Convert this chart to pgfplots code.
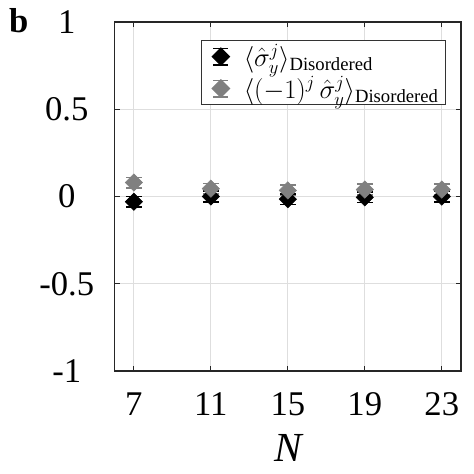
\documentclass[border=0pt]{standalone}
\usepackage{fix-cm}
\usepackage{amsmath}
\usepackage{pgfplots}
\pgfplotsset{compat=1.18}
\usepackage{fontspec}
\setmainfont{Liberation Serif}
\definecolor{mgray}{RGB}{128,128,128}
\definecolor{gridc}{RGB}{222,222,222}
\begin{document}
\begin{tikzpicture}[x=1pt,y=1pt]
\begin{axis}[
    width=260pt, height=262pt,
    scale only axis,
    xmin=6, xmax=24,
    ymin=-1, ymax=1,
    xtick={7,11,15,19,23},
    xticklabels={7,11,15,19,23},
    ytick={-1,-0.5,0,0.5,1},
    yticklabels={-1,-0.5,0,0.5,1},
    tick label style={font=\fontsize{26}{26}\selectfont},
    yticklabel style={anchor=center, xshift=-36pt},
    xticklabel style={anchor=center, yshift=-25pt},
    xlabel={\fontsize{31}{31}\selectfont\itshape N},
    xlabel style={at={(rel axis cs:0.5,0)}, anchor=center, yshift=-58pt},
    grid=major,
    major grid style={gridc, line width=0.9pt},
    axis line style={black!85, line width=1.1pt},
    tick style={black!85, line width=0.8pt},
    major tick length=4pt,
    tick align=inside,
    clip=false,
    legend cell align=left,
    legend style={at={(rel axis cs:0.958,0.948)}, anchor=north east,
        draw=black!80, line width=0.8pt, inner sep=1.5pt,
        font=\fontsize{20}{22}\selectfont, row sep=3pt,
        nodes={inner xsep=4pt, inner ysep=1.5pt}},
    legend image code/.code={
        \draw[#1, mark=none, line width=1pt] (0.45cm,-0.22cm)--(0.45cm,0.22cm)
            (0.25cm,-0.22cm)--(0.65cm,-0.22cm) (0.25cm,0.22cm)--(0.65cm,0.22cm);
        \draw[#1] plot coordinates {(0.45cm,0cm)};
        \path (0cm,0cm) (0.9cm,0cm);
    },
]
\addplot[black, only marks, mark=square*, mark size=4.6pt,
    mark options={rotate=45, fill=black},
    error bars/.cd, y dir=both, y explicit,
    error bar style={black, line width=1.2pt},
    error mark options={rotate=90, mark size=6pt, line width=1.2pt}]
    coordinates {
    (7,-0.03) +- (0,0.03)
    (11,0.00) +- (0,0.03)
    (15,-0.015) +- (0,0.03)
    (19,-0.005) +- (0,0.03)
    (23,0.00) +- (0,0.03)
};
\addlegendentry{$\langle\hat\sigma_y^j\rangle_{\text{Disordered}}$}
\addplot[mgray, only marks, mark=square*, mark size=4.6pt,
    mark options={rotate=45, fill=mgray},
    error bars/.cd, y dir=both, y explicit,
    error bar style={mgray, line width=1.2pt},
    error mark options={rotate=90, mark size=6pt, line width=1.2pt}]
    coordinates {
    (7,0.08) +- (0,0.03)
    (11,0.045) +- (0,0.03)
    (15,0.035) +- (0,0.03)
    (19,0.04) +- (0,0.03)
    (23,0.04) +- (0,0.03)
};
\addlegendentry{$\langle(-1)^j\,\hat\sigma_y^j\rangle_{\text{Disordered}}$}
\node[font=\fontsize{26}{26}\selectfont\bfseries, anchor=north west]
    at (rel axis cs:-0.318,1.053) {b};
\path (rel axis cs:-0.331,-0.295) rectangle (rel axis cs:1.035,1.063);
\end{axis}
\end{tikzpicture}
\end{document}
